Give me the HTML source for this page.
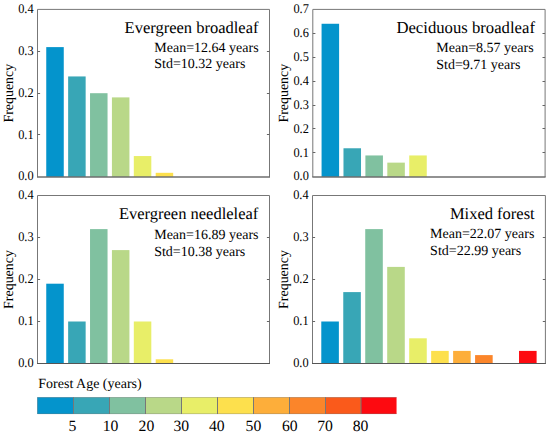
<!DOCTYPE html>
<html><head><meta charset="utf-8"><style>
html,body{margin:0;padding:0;background:#fff;}
body{width:550px;height:435px;overflow:hidden;}
svg{display:block;}
text{font-family:"Liberation Serif",serif;fill:#000;text-rendering:geometricPrecision;}
</style></head><body>
<svg width="550" height="435" viewBox="0 0 550 435">
<rect x="46.25" y="47.11" width="17.51" height="129.89" fill="#0494cc"/>
<rect x="68.14" y="76.44" width="17.51" height="100.56" fill="#38a6b6"/>
<rect x="90.03" y="93.20" width="17.51" height="83.80" fill="#80c1a0"/>
<rect x="111.92" y="97.39" width="17.51" height="79.61" fill="#b9d888"/>
<rect x="133.80" y="156.05" width="17.51" height="20.95" fill="#e8ee68"/>
<rect x="155.69" y="172.81" width="17.51" height="4.19" fill="#fde04d"/>
<path d="M37.5,177.0 V9.4 H269.5 V177.0" fill="none" stroke="#777" stroke-width="1"/>
<line x1="37.0" y1="177.0" x2="270.0" y2="177.0" stroke="#6e6e6e" stroke-width="1.6"/>
<text transform="translate(33.60,180.40) scale(0.93,1)" text-anchor="end" font-size="13.3">0.0</text>
<line x1="37.5" y1="134.50" x2="40.1" y2="134.50" stroke="#666" stroke-width="1"/>
<line x1="269.5" y1="134.50" x2="266.9" y2="134.50" stroke="#666" stroke-width="1"/>
<text transform="translate(33.60,138.57) scale(0.93,1)" text-anchor="end" font-size="13.3">0.1</text>
<line x1="37.5" y1="93.50" x2="40.1" y2="93.50" stroke="#666" stroke-width="1"/>
<line x1="269.5" y1="93.50" x2="266.9" y2="93.50" stroke="#666" stroke-width="1"/>
<text transform="translate(33.60,96.75) scale(0.93,1)" text-anchor="end" font-size="13.3">0.2</text>
<line x1="37.5" y1="51.50" x2="40.1" y2="51.50" stroke="#666" stroke-width="1"/>
<line x1="269.5" y1="51.50" x2="266.9" y2="51.50" stroke="#666" stroke-width="1"/>
<text transform="translate(33.60,54.92) scale(0.93,1)" text-anchor="end" font-size="13.3">0.3</text>
<text transform="translate(33.60,13.10) scale(0.93,1)" text-anchor="end" font-size="13.3">0.4</text>
<text transform="translate(12.70,93.20) rotate(-90)" text-anchor="middle" font-size="13.95">Frequency</text>
<text x="124.6" y="32.7" font-size="16.5">Evergreen broadleaf</text>
<text x="154.3" y="51.6" font-size="14">Mean=12.64 years</text>
<text x="154.3" y="68.3" font-size="14">Std=10.32 years</text>
<rect x="321.57" y="23.77" width="17.53" height="153.23" fill="#0494cc"/>
<rect x="343.48" y="148.27" width="17.53" height="28.73" fill="#38a6b6"/>
<rect x="365.40" y="155.45" width="17.53" height="21.55" fill="#80c1a0"/>
<rect x="387.31" y="162.63" width="17.53" height="14.37" fill="#b9d888"/>
<rect x="409.23" y="155.45" width="17.53" height="21.55" fill="#e8ee68"/>
<path d="M312.8,177.0 V9.4 H545.1 V177.0" fill="none" stroke="#777" stroke-width="1"/>
<line x1="312.3" y1="177.0" x2="545.6" y2="177.0" stroke="#6e6e6e" stroke-width="1.6"/>
<text transform="translate(308.90,180.40) scale(0.93,1)" text-anchor="end" font-size="13.3">0.0</text>
<line x1="312.8" y1="152.50" x2="315.40000000000003" y2="152.50" stroke="#666" stroke-width="1"/>
<line x1="545.1" y1="152.50" x2="542.5" y2="152.50" stroke="#666" stroke-width="1"/>
<text transform="translate(308.90,156.50) scale(0.93,1)" text-anchor="end" font-size="13.3">0.1</text>
<line x1="312.8" y1="128.50" x2="315.40000000000003" y2="128.50" stroke="#666" stroke-width="1"/>
<line x1="545.1" y1="128.50" x2="542.5" y2="128.50" stroke="#666" stroke-width="1"/>
<text transform="translate(308.90,132.60) scale(0.93,1)" text-anchor="end" font-size="13.3">0.2</text>
<line x1="312.8" y1="105.50" x2="315.40000000000003" y2="105.50" stroke="#666" stroke-width="1"/>
<line x1="545.1" y1="105.50" x2="542.5" y2="105.50" stroke="#666" stroke-width="1"/>
<text transform="translate(308.90,108.70) scale(0.93,1)" text-anchor="end" font-size="13.3">0.3</text>
<line x1="312.8" y1="81.50" x2="315.40000000000003" y2="81.50" stroke="#666" stroke-width="1"/>
<line x1="545.1" y1="81.50" x2="542.5" y2="81.50" stroke="#666" stroke-width="1"/>
<text transform="translate(308.90,84.80) scale(0.93,1)" text-anchor="end" font-size="13.3">0.4</text>
<line x1="312.8" y1="57.50" x2="315.40000000000003" y2="57.50" stroke="#666" stroke-width="1"/>
<line x1="545.1" y1="57.50" x2="542.5" y2="57.50" stroke="#666" stroke-width="1"/>
<text transform="translate(308.90,60.90) scale(0.93,1)" text-anchor="end" font-size="13.3">0.5</text>
<line x1="312.8" y1="33.50" x2="315.40000000000003" y2="33.50" stroke="#666" stroke-width="1"/>
<line x1="545.1" y1="33.50" x2="542.5" y2="33.50" stroke="#666" stroke-width="1"/>
<text transform="translate(308.90,37.00) scale(0.93,1)" text-anchor="end" font-size="13.3">0.6</text>
<text transform="translate(308.90,13.10) scale(0.93,1)" text-anchor="end" font-size="13.3">0.7</text>
<text transform="translate(288.00,93.20) rotate(-90)" text-anchor="middle" font-size="13.95">Frequency</text>
<text x="396.4" y="32.7" font-size="16.7">Deciduous broadleaf</text>
<text x="436.3" y="52.0" font-size="14">Mean=8.57 years</text>
<text x="436.3" y="68.8" font-size="14">Std=9.71 years</text>
<rect x="46.25" y="283.70" width="17.51" height="79.80" fill="#0494cc"/>
<rect x="68.14" y="321.50" width="17.51" height="42.00" fill="#38a6b6"/>
<rect x="90.03" y="229.10" width="17.51" height="134.40" fill="#80c1a0"/>
<rect x="111.92" y="250.10" width="17.51" height="113.40" fill="#b9d888"/>
<rect x="133.80" y="321.50" width="17.51" height="42.00" fill="#e8ee68"/>
<rect x="155.69" y="359.30" width="17.51" height="4.20" fill="#fde04d"/>
<path d="M37.5,363.5 V195.5 H269.5 V363.5" fill="none" stroke="#777" stroke-width="1"/>
<line x1="37.0" y1="363.5" x2="270.0" y2="363.5" stroke="#555" stroke-width="1"/>
<text transform="translate(33.60,367.20) scale(0.93,1)" text-anchor="end" font-size="13.3">0.0</text>
<line x1="37.5" y1="321.50" x2="40.1" y2="321.50" stroke="#666" stroke-width="1"/>
<line x1="269.5" y1="321.50" x2="266.9" y2="321.50" stroke="#666" stroke-width="1"/>
<text transform="translate(33.60,325.20) scale(0.93,1)" text-anchor="end" font-size="13.3">0.1</text>
<line x1="37.5" y1="279.50" x2="40.1" y2="279.50" stroke="#666" stroke-width="1"/>
<line x1="269.5" y1="279.50" x2="266.9" y2="279.50" stroke="#666" stroke-width="1"/>
<text transform="translate(33.60,283.20) scale(0.93,1)" text-anchor="end" font-size="13.3">0.2</text>
<line x1="37.5" y1="237.50" x2="40.1" y2="237.50" stroke="#666" stroke-width="1"/>
<line x1="269.5" y1="237.50" x2="266.9" y2="237.50" stroke="#666" stroke-width="1"/>
<text transform="translate(33.60,241.20) scale(0.93,1)" text-anchor="end" font-size="13.3">0.3</text>
<text transform="translate(33.60,199.20) scale(0.93,1)" text-anchor="end" font-size="13.3">0.4</text>
<text transform="translate(12.70,279.50) rotate(-90)" text-anchor="middle" font-size="13.95">Frequency</text>
<text x="118.9" y="218.9" font-size="16.5">Evergreen needleleaf</text>
<text x="154.2" y="238.6" font-size="14">Mean=16.89 years</text>
<text x="154.2" y="255.6" font-size="14">Std=10.38 years</text>
<rect x="321.29" y="321.50" width="17.58" height="42.00" fill="#0494cc"/>
<rect x="343.26" y="292.10" width="17.58" height="71.40" fill="#38a6b6"/>
<rect x="365.23" y="229.10" width="17.58" height="134.40" fill="#80c1a0"/>
<rect x="387.20" y="266.90" width="17.58" height="96.60" fill="#b9d888"/>
<rect x="409.18" y="338.30" width="17.58" height="25.20" fill="#e8ee68"/>
<rect x="431.15" y="350.90" width="17.58" height="12.60" fill="#fde04d"/>
<rect x="453.12" y="350.90" width="17.58" height="12.60" fill="#fdae3a"/>
<rect x="475.09" y="355.10" width="17.58" height="8.40" fill="#fb852a"/>
<rect x="519.03" y="350.90" width="17.58" height="12.60" fill="#fd0a10"/>
<path d="M312.5,363.5 V195.5 H545.4 V363.5" fill="none" stroke="#777" stroke-width="1"/>
<line x1="312.0" y1="363.5" x2="545.9" y2="363.5" stroke="#555" stroke-width="1"/>
<text transform="translate(308.60,367.20) scale(0.93,1)" text-anchor="end" font-size="13.3">0.0</text>
<line x1="312.5" y1="321.50" x2="315.1" y2="321.50" stroke="#666" stroke-width="1"/>
<line x1="545.4" y1="321.50" x2="542.8" y2="321.50" stroke="#666" stroke-width="1"/>
<text transform="translate(308.60,325.20) scale(0.93,1)" text-anchor="end" font-size="13.3">0.1</text>
<line x1="312.5" y1="279.50" x2="315.1" y2="279.50" stroke="#666" stroke-width="1"/>
<line x1="545.4" y1="279.50" x2="542.8" y2="279.50" stroke="#666" stroke-width="1"/>
<text transform="translate(308.60,283.20) scale(0.93,1)" text-anchor="end" font-size="13.3">0.2</text>
<line x1="312.5" y1="237.50" x2="315.1" y2="237.50" stroke="#666" stroke-width="1"/>
<line x1="545.4" y1="237.50" x2="542.8" y2="237.50" stroke="#666" stroke-width="1"/>
<text transform="translate(308.60,241.20) scale(0.93,1)" text-anchor="end" font-size="13.3">0.3</text>
<text transform="translate(308.60,199.20) scale(0.93,1)" text-anchor="end" font-size="13.3">0.4</text>
<text transform="translate(287.70,279.50) rotate(-90)" text-anchor="middle" font-size="13.95">Frequency</text>
<text x="449.9" y="218.6" font-size="16.5">Mixed forest</text>
<text x="430.1" y="237.9" font-size="14">Mean=22.07 years</text>
<text x="430.1" y="254.6" font-size="14">Std=22.99 years</text>
<rect x="37.20" y="397.2" width="36.35" height="16.80" fill="#0494cc"/>
<rect x="73.50" y="397.2" width="36.05" height="16.80" fill="#38a6b6"/>
<rect x="109.50" y="397.2" width="36.05" height="16.80" fill="#80c1a0"/>
<rect x="145.50" y="397.2" width="36.05" height="16.80" fill="#b9d888"/>
<rect x="181.50" y="397.2" width="36.05" height="16.80" fill="#e8ee68"/>
<rect x="217.50" y="397.2" width="36.05" height="16.80" fill="#fde04d"/>
<rect x="253.50" y="397.2" width="36.05" height="16.80" fill="#fdae3a"/>
<rect x="289.50" y="397.2" width="36.05" height="16.80" fill="#fb852a"/>
<rect x="325.50" y="397.2" width="35.55" height="16.80" fill="#fa5a1b"/>
<rect x="361.00" y="397.2" width="35.55" height="16.80" fill="#fd0a10"/>
<path d="M396.5,397.5 H37.5 V413.7 H396.5" fill="none" stroke="#777" stroke-opacity="0.6" stroke-width="0.6"/>
<line x1="73.50" y1="397.2" x2="73.50" y2="414.0" stroke="#777" stroke-width="1"/>
<line x1="109.50" y1="397.2" x2="109.50" y2="414.0" stroke="#777" stroke-width="1"/>
<line x1="145.50" y1="397.2" x2="145.50" y2="414.0" stroke="#777" stroke-width="1"/>
<line x1="181.50" y1="397.2" x2="181.50" y2="414.0" stroke="#777" stroke-width="1"/>
<line x1="217.50" y1="397.2" x2="217.50" y2="414.0" stroke="#777" stroke-width="1"/>
<line x1="253.50" y1="397.2" x2="253.50" y2="414.0" stroke="#777" stroke-width="1"/>
<line x1="289.50" y1="397.2" x2="289.50" y2="414.0" stroke="#777" stroke-width="1"/>
<line x1="325.50" y1="397.2" x2="325.50" y2="414.0" stroke="#777" stroke-width="1"/>
<line x1="361.00" y1="397.2" x2="361.00" y2="414.0" stroke="#777" stroke-width="1"/>
<text x="72.43" y="431.2" text-anchor="middle" font-size="15.7">5</text>
<text x="110.52" y="431.2" text-anchor="middle" font-size="15.7">10</text>
<text x="146.44" y="431.2" text-anchor="middle" font-size="15.7">20</text>
<text x="181.34" y="431.2" text-anchor="middle" font-size="15.7">30</text>
<text x="216.79" y="431.2" text-anchor="middle" font-size="15.7">40</text>
<text x="253.38" y="431.2" text-anchor="middle" font-size="15.7">50</text>
<text x="289.80" y="431.2" text-anchor="middle" font-size="15.7">60</text>
<text x="325.01" y="431.2" text-anchor="middle" font-size="15.7">70</text>
<text x="360.50" y="431.2" text-anchor="middle" font-size="15.7">80</text>
<text x="38.3" y="387.9" font-size="14">Forest Age (years)</text>
</svg>
</body></html>
